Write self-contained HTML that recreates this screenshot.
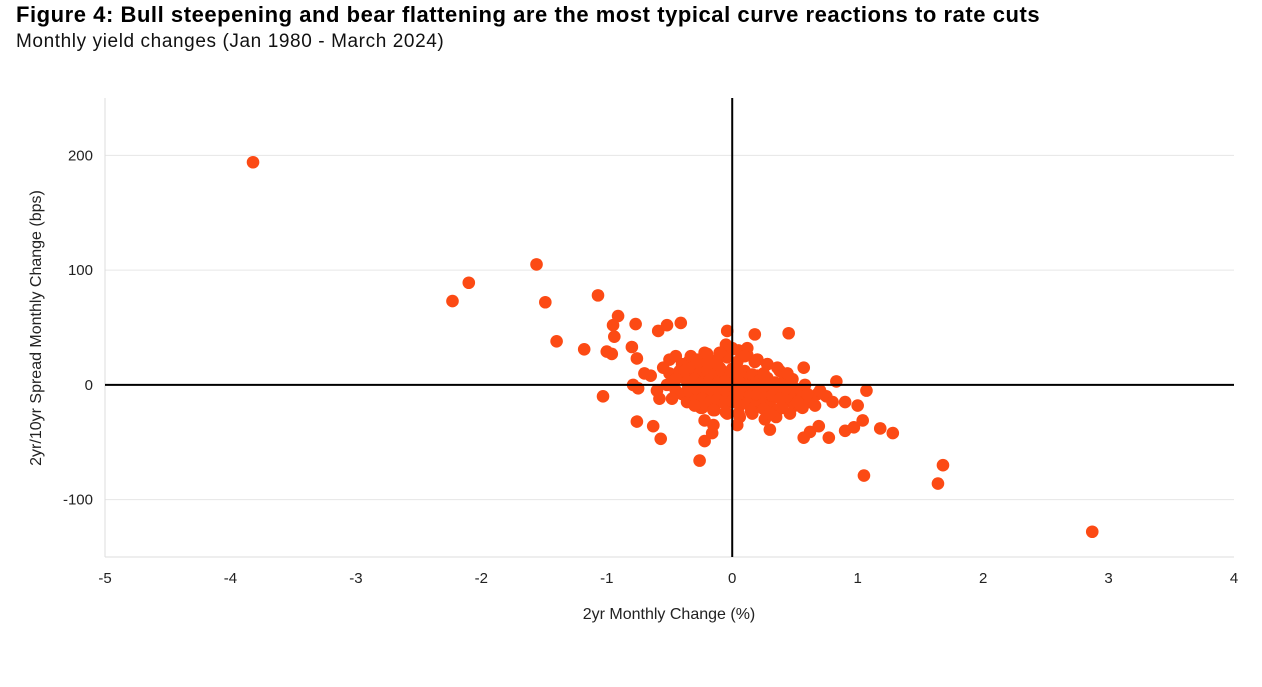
<!DOCTYPE html>
<html><head><meta charset="utf-8"><style>
body{margin:0;background:#fff;width:1262px;height:687px;overflow:hidden;font-family:"Liberation Sans",sans-serif}
#title{position:absolute;left:16px;top:2px;font-size:22px;font-weight:bold;color:#000;letter-spacing:0.55px;white-space:nowrap}
#sub{position:absolute;left:16px;top:31px;font-size:19px;color:#111;letter-spacing:0.6px;white-space:nowrap}
svg{position:absolute;left:0;top:0}
</style></head><body>
<div id="title">Figure 4: Bull steepening and bear flattening are the most typical curve reactions to rate cuts</div>
<div id="sub">Monthly yield changes (Jan 1980 - March 2024)</div>
<svg id="c" width="1262" height="687"></svg>
<script>
const xTicks=[-5,-4,-3,-2,-1,0,1,2,3,4];
const yTicks=[-100,0,100,200];
const xVals=[-3.82,-2.23,-2.1,-1.56,-1.49,-1.4,-1.18,-1.07,-1.03,-1.0,-0.96,-0.95,-0.94,-0.91,-0.8,-0.77,-0.79,-0.75,-0.76,-0.76,-0.63,-0.57,-0.59,-0.52,-0.41,-0.26,-0.22,-0.16,-0.04,0.18,0.45,0.57,0.83,1.07,1.0,0.9,0.9,0.97,1.04,1.18,1.28,0.77,0.62,0.57,0.69,1.05,1.64,1.68,2.87,0.3,0.04,-0.22,
-0.5,-0.45,-0.4,-0.35,-0.3,-0.25,-0.2,-0.15,-0.1,-0.05,0,0.05,0.1,0.15,0.2,0.25,0.3,0.35,0.4,0.45,0.5,
-0.5,-0.45,-0.4,-0.35,-0.3,-0.25,-0.2,-0.15,-0.1,-0.05,0,0.05,0.1,0.15,0.2,0.25,0.3,0.35,0.4,0.45,0.5,0.55,
-0.45,-0.4,-0.35,-0.3,-0.25,-0.2,-0.15,-0.1,-0.05,0,0.05,0.1,0.15,0.2,0.25,0.3,0.35,0.4,0.45,0.5,0.55,0.6,
-0.55,-0.42,-0.33,-0.22,-0.12,-0.02,0.08,0.18,0.28,0.38,0.48,0.58,0.68,0.75,
-0.6,-0.48,-0.36,-0.24,-0.14,-0.04,0.06,0.16,0.26,0.36,0.46,0.56,0.66,
-0.3,-0.2,-0.1,0,0.1,0.2,0.3,-0.05,0.05,0.12,-0.15,0.25,0.35,0.62,0.7,0.8,-0.65,-0.7,-0.58,
-0.38,-0.32,-0.26,-0.2,-0.14,-0.08,-0.02,0.04,0.1,0.16,0.22,0.28,0.34,
-0.36,-0.3,-0.24,-0.18,-0.12,-0.06,0,0.06,0.12,0.18,0.24,0.3,0.36,0.42,
-0.34,-0.28,-0.22,-0.16,-0.1,-0.04,0.02,0.08,0.14,0.2,0.26,0.32,0.38,
-0.3,-0.24,-0.18,-0.12,-0.06,0,0.06,0.12,0.18,0.24,0.3,0.36,
-0.28,-0.2,-0.12,-0.04,0.04,0.12,0.2,0.28,0.36,0.44,
-0.25,-0.15,-0.05,0.05,0.15,0.25,-0.1,0,0.1,0.2,-0.2,-0.3,0.3,0.4,-0.45,-0.52,0.52,0.6];
const yVals=[194,73,89,105,72,38,31,78,-10,29,27,52,42,60,33,53,0,-3,-32,23,-36,-47,47,52,54,-66,-49,-42,47,44,45,15,3,-5,-18,-15,-40,-37,-31,-38,-42,-46,-41,-46,-36,-79,-86,-70,-128,-39,-35,-31,
22,25,18,20,15,17,12,20,15,10,14,8,12,5,8,3,0,-2,2,-5,-3,
10,5,8,3,6,2,5,0,4,-2,3,-4,0,-6,-3,-8,-5,-10,-7,-12,-9,-5,
-5,-8,-2,-6,-10,-4,-8,-12,-6,-15,-10,-8,-14,-12,-18,-15,-10,-20,-14,-18,-12,-15,
15,12,25,28,22,30,25,20,18,12,5,0,-8,-10,
-5,-12,-15,-20,-22,-25,-28,-25,-30,-22,-25,-20,-18,
0,2,-3,3,-2,2,-2,35,30,32,-35,10,-28,-10,-5,-15,8,10,-12,
12,15,10,13,9,12,8,10,6,9,4,6,2,
3,5,2,4,1,3,0,2,-1,1,-2,0,-3,-4,
-6,-4,-7,-5,-8,-6,-9,-7,-10,-8,-11,-9,-12,
-14,-12,-15,-13,-16,-14,-18,-16,-19,-17,-20,-22,
22,20,18,24,20,26,22,18,15,10,
-20,-22,-24,-25,-23,-21,28,32,25,22,27,-18,-25,-20,5,0,-15,-8];
const svg=document.getElementById('c'),NS='http://www.w3.org/2000/svg';
const L=105,R=1234,T=98,B=557,xmin=-5,xmax=4,ymin=-150,ymax=250;
const sx=v=>L+(v-xmin)/(xmax-xmin)*(R-L), sy=v=>B-(v-ymin)/(ymax-ymin)*(B-T);
function mk(t,a,txt){const e=document.createElementNS(NS,t);for(const k in a)e.setAttribute(k,a[k]);if(txt!=null)e.textContent=txt;svg.appendChild(e);return e;}
yTicks.forEach(v=>{if(v!==0){const g=mk('line',{x1:L,x2:R,y1:sy(v),y2:sy(v),stroke:'#e6e6e6','stroke-width':1});

}
const t=mk('text',{x:93,y:sy(v)+5,'text-anchor':'end','font-size':15,fill:'#222'},v);

});
const ax=mk('line',{x1:L,x2:R,y1:B,y2:B,stroke:'#ddd'});
const ay=mk('line',{x1:L,x2:L,y1:T,y2:B,stroke:'#ddd'});
xTicks.forEach(v=>{
const t=mk('text',{x:sx(v),y:583,'text-anchor':'middle','font-size':15,fill:'#222'},v);

});
xVals.forEach((x,i)=>{const c=mk('circle',{cx:sx(x),cy:sy(yVals[i]),r:6.3,fill:'#fc4a14'});

});
const z1=mk('line',{x1:L,x2:R,y1:sy(0),y2:sy(0),stroke:'#000','stroke-width':2});
const z2=mk('line',{x1:sx(0),x2:sx(0),y1:T,y2:B,stroke:'#000','stroke-width':2});
const xt=mk('text',{x:669,y:619,'text-anchor':'middle','font-size':16,fill:'#222'},'2yr Monthly Change (%)');
const yt=mk('text',{x:0,y:0,'text-anchor':'middle','font-size':16,fill:'#222',transform:'translate(41,328) rotate(-90)'},'2yr/10yr Spread Monthly Change (bps)');
</script></body></html>
